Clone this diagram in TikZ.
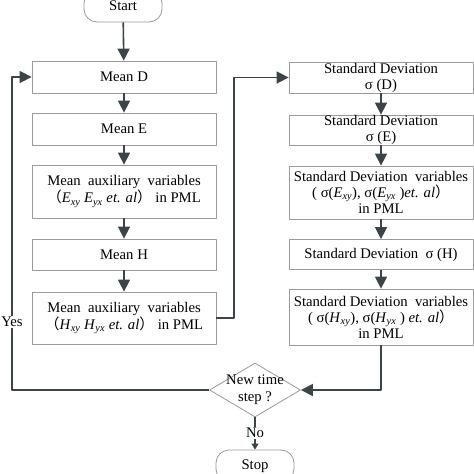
\documentclass[tikz,border=0pt]{standalone}
\usepackage{fontspec}
\setmainfont{Liberation Serif}
\newfontfamily\cjkfont{Noto Sans CJK SC}
\usetikzlibrary{shapes.geometric,arrows.meta}
\definecolor{flowline}{HTML}{3B4548}
\definecolor{boxline}{HTML}{9A9A9A}
\newcommand{\itsub}[2]{\textit{#1}\textsubscript{\textit{#2}}}
\newcommand{\lpar}{{\cjkfont （}}
\newcommand{\rpar}{{\cjkfont ）}}
\tikzset{
	process/.style={draw=boxline, line width=0.8pt, fill=white, minimum width=184pt, inner sep=0pt, align=center},
	terminal/.style={draw=boxline, line width=0.8pt, fill=white, rounded corners=13pt, minimum width=78pt, minimum height=32pt, inner sep=0pt},
	decision/.style={diamond, draw=boxline, line width=0.8pt, fill=white, minimum width=91pt, minimum height=54pt, inner sep=0pt},
	flow/.style={draw=flowline, line width=1.6pt, -{Triangle[length=12pt,width=12pt]}},
	smallflow/.style={draw=flowline, line width=1.2pt, -{Triangle[length=6pt,width=7pt]}},
	lab/.style={fill=white, inner sep=1pt}
}
\begin{document}
\begin{tikzpicture}[x=1pt, y=-1pt, font=\fontsize{14.7}{17}\selectfont, line join=round]
	\path[use as bounding box, clip] (0,0) rectangle (474,474);
	% start and stop
	\node[terminal] (start) at (123,6) {Start};
	\node[terminal] (stop) at (255,466) {Stop};
	% mean column
	\node[process, minimum height=32pt] (meanD) at (124,77) {Mean D};
	\node[process, minimum height=32pt] (meanE) at (124,129) {Mean E};
	\node[process, minimum height=53pt] (auxE) at (124,191.5) {Mean\ \ auxiliary\ \ variables\\\lpar\itsub{E}{xy} \itsub{E}{yx} \textit{et. al}\rpar\ in PML};
	\node[process, minimum height=31pt] (meanH) at (124,254.5) {Mean H};
	\node[process, minimum height=52pt] (auxH) at (124,318) {Mean\ \ auxiliary\ \ variables\\\lpar\itsub{H}{xy} \itsub{H}{yx} \textit{et. al}\rpar\ in PML};
	% standard deviation column
	\node[process, minimum height=31pt, font=\fontsize{14.7}{16}\selectfont] (sdD) at (381,77.5) {Standard Deviation\\σ (D)};
	\node[process, minimum height=30pt, font=\fontsize{14.7}{16}\selectfont] (sdE) at (381,130) {Standard Deviation\\σ (E)};
	\node[process, minimum height=53pt, font=\fontsize{14.7}{16}\selectfont] (sdvE) at (381,192.5) {Standard Deviation\ \ variables\\( σ(\itsub{E}{xy}), σ(\itsub{E}{yx} )\textit{et. al}\rpar\\in PML};
	\node[process, minimum height=30pt] (sdH) at (381,254.5) {Standard Deviation\ \ σ (H)};
	\node[process, minimum height=56pt, font=\fontsize{14.7}{16}\selectfont] (sdvH) at (381,317) {Standard Deviation\ \ variables\\( σ(\itsub{H}{xy}), σ(\itsub{H}{yx} ) \textit{et. al}\rpar\\in PML};
	% decision
	\node[decision] (dec) at (255,390) {};
	\node[align=center] (dectext) at (dec.center) {New time\\step ?};
	% connectors
	\coordinate (jr) at (234,318);
	\coordinate (yesturn) at (12,390);
	\draw[flow] (start) -- (meanD);
	\draw[flow] (meanD) -- (meanE);
	\draw[flow] (meanE) -- (auxE);
	\draw[flow] (auxE) -- (meanH);
	\draw[flow] (meanH) -- (auxH);
	\draw[flow] (auxH.east) -- (jr) |- (sdD.west);
	\draw[flow] (sdD) -- (sdE);
	\draw[flow] (sdE) -- (sdvE);
	\draw[flow] (sdvE) -- (sdH);
	\draw[flow] (sdH) -- (sdvH);
	\draw[flow] (sdvH.south) |- (dec.east);
	\draw[flow] (dec.west) -- (yesturn) |- (meanD.west);
	\draw[smallflow] (dec.south) -- (stop.north);
	\node[lab] (yes) at (12,322) {Yes};
	\node[lab] (no) at (255,433) {No};
\end{tikzpicture}
\end{document}
